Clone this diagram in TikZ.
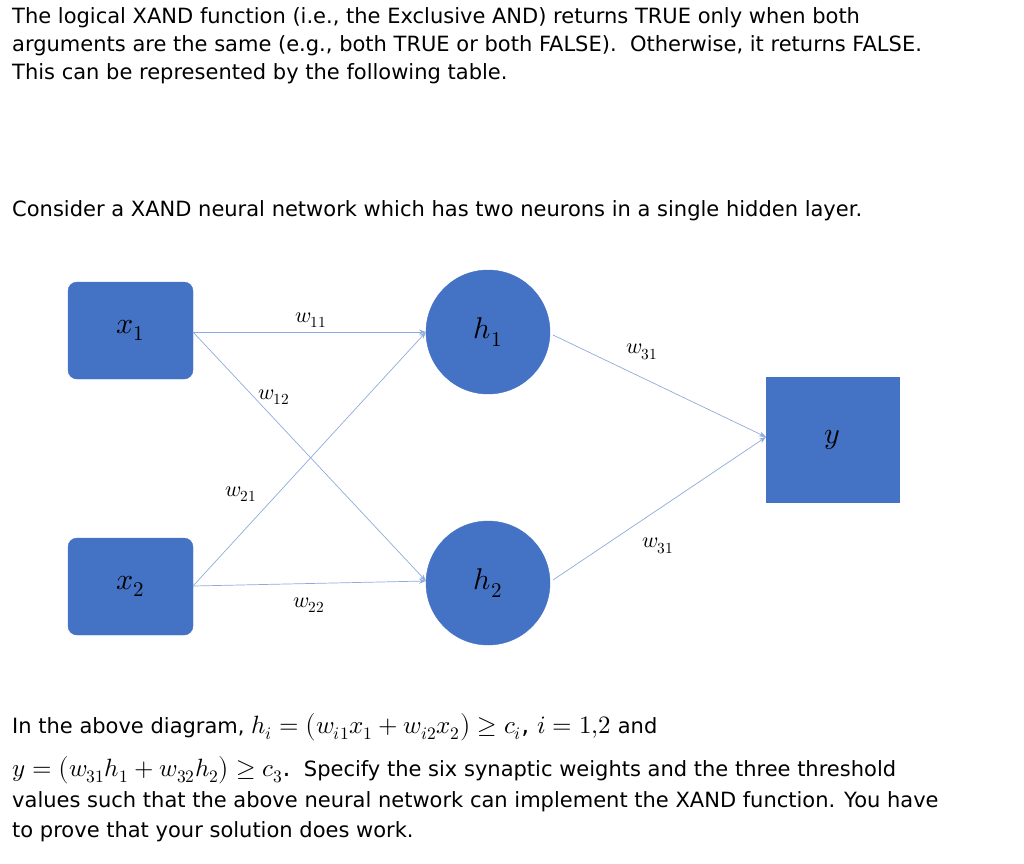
\documentclass[tikz,border=0pt]{standalone}
\usepackage{fontspec}
\setmainfont{DejaVu Sans}
\usepackage{amsmath}
\usepackage{unicode-math}
\setmathfont{Latin Modern Math}
\usetikzlibrary{arrows.meta}
\begin{document}
\begin{tikzpicture}[x=1pt,y=-1pt,
  txt/.style={anchor=west,inner sep=0pt,font=\fontsize{21}{24}\selectfont},
  blk/.style={fill=blueF,draw=blueF,inner sep=0pt},
  lab/.style={font=\fontsize{30}{30}\selectfont},
  wl/.style={inner sep=0pt,font=\fontsize{22}{22}\selectfont},
  con/.style={draw=lineC,line width=0.7pt,-{Stealth[length=7pt,width=5pt]}}]
\definecolor{blueF}{HTML}{4472C4}
\definecolor{lineC}{HTML}{8FAADC}
\useasboundingbox (0,0) rectangle (1024,863);
\node[txt] (t1) at (12,18) {The logical XAND function (i.e., the Exclusive AND) returns TRUE only when both};
\node[txt] (t2) at (12,46) {arguments are the same (e.g., both TRUE or both FALSE).\ \ Otherwise, it returns FALSE.};
\node[txt] (t3) at (12,74) {This can be represented by the following table.};
\node[txt] (t4) at (12,211) {Consider a XAND neural network which has two neurons in a single hidden layer.};
\node[blk,rounded corners=9pt,minimum width=125pt,minimum height=97pt] (x1) at (130.5,330.5) {};
\node[blk,rounded corners=9pt,minimum width=125pt,minimum height=97pt] (x2) at (130.5,586.5) {};
\node[blk,circle,minimum size=124pt] (h1) at (488,332) {};
\node[blk,circle,minimum size=124pt] (h2) at (488,583) {};
\node[blk,minimum width=133pt,minimum height=125pt] (y) at (832.5,439.5) {};
\node[lab] at (x1) {$x_1$};
\node[lab] at (x2) {$x_2$};
\node[lab] at (h1) {$h_1$};
\node[lab] at (h2) {$h_2$};
\node[lab] at (y) {$y$};
\coordinate (a1) at (193,332);
\coordinate (a2) at (193,586);
\coordinate (b1) at (426,332);
\coordinate (b2) at (426,581);
\coordinate (c1) at (553,335);
\coordinate (c2) at (553,580);
\coordinate (d) at (766,437);
\draw[con] (a1) -- (b1);
\draw[con] (a1) -- (b2);
\draw[con] (a2) -- (b1);
\draw[con] (a2) -- (b2);
\draw[con] (c1) -- (d);
\draw[con] (c2) -- (d);
\node[wl] (w11) at (311,320) {$w_{11}$};
\node[wl] (w12) at (274,397) {$w_{12}$};
\node[wl] (w21) at (241,494) {$w_{21}$};
\node[wl] (w22) at (309,605) {$w_{22}$};
\node[wl] (w31) at (642,352) {$w_{31}$};
\node[wl] (w32) at (658,546) {$w_{31}$};
\node[txt] (b1t) at (12,727) {In the above diagram, {\fontsize{25}{25}\selectfont$h_i=\bigl(w_{i1}x_1+w_{i2}x_2\bigr)\geq c_i$, $i=1{,}2$} and};
\node[txt] (b2t) at (12,770) {{\fontsize{25}{25}\selectfont$y=\bigl(w_{31}h_1+w_{32}h_2\bigr)\geq c_3$.}\ \ Specify the six synaptic weights and the three threshold};
\node[txt] (b3t) at (12,802) {values such that the above neural network can implement the XAND function. You have};
\node[txt] (b4t) at (12,832) {to prove that your solution does work.};
\end{tikzpicture}
\end{document}
